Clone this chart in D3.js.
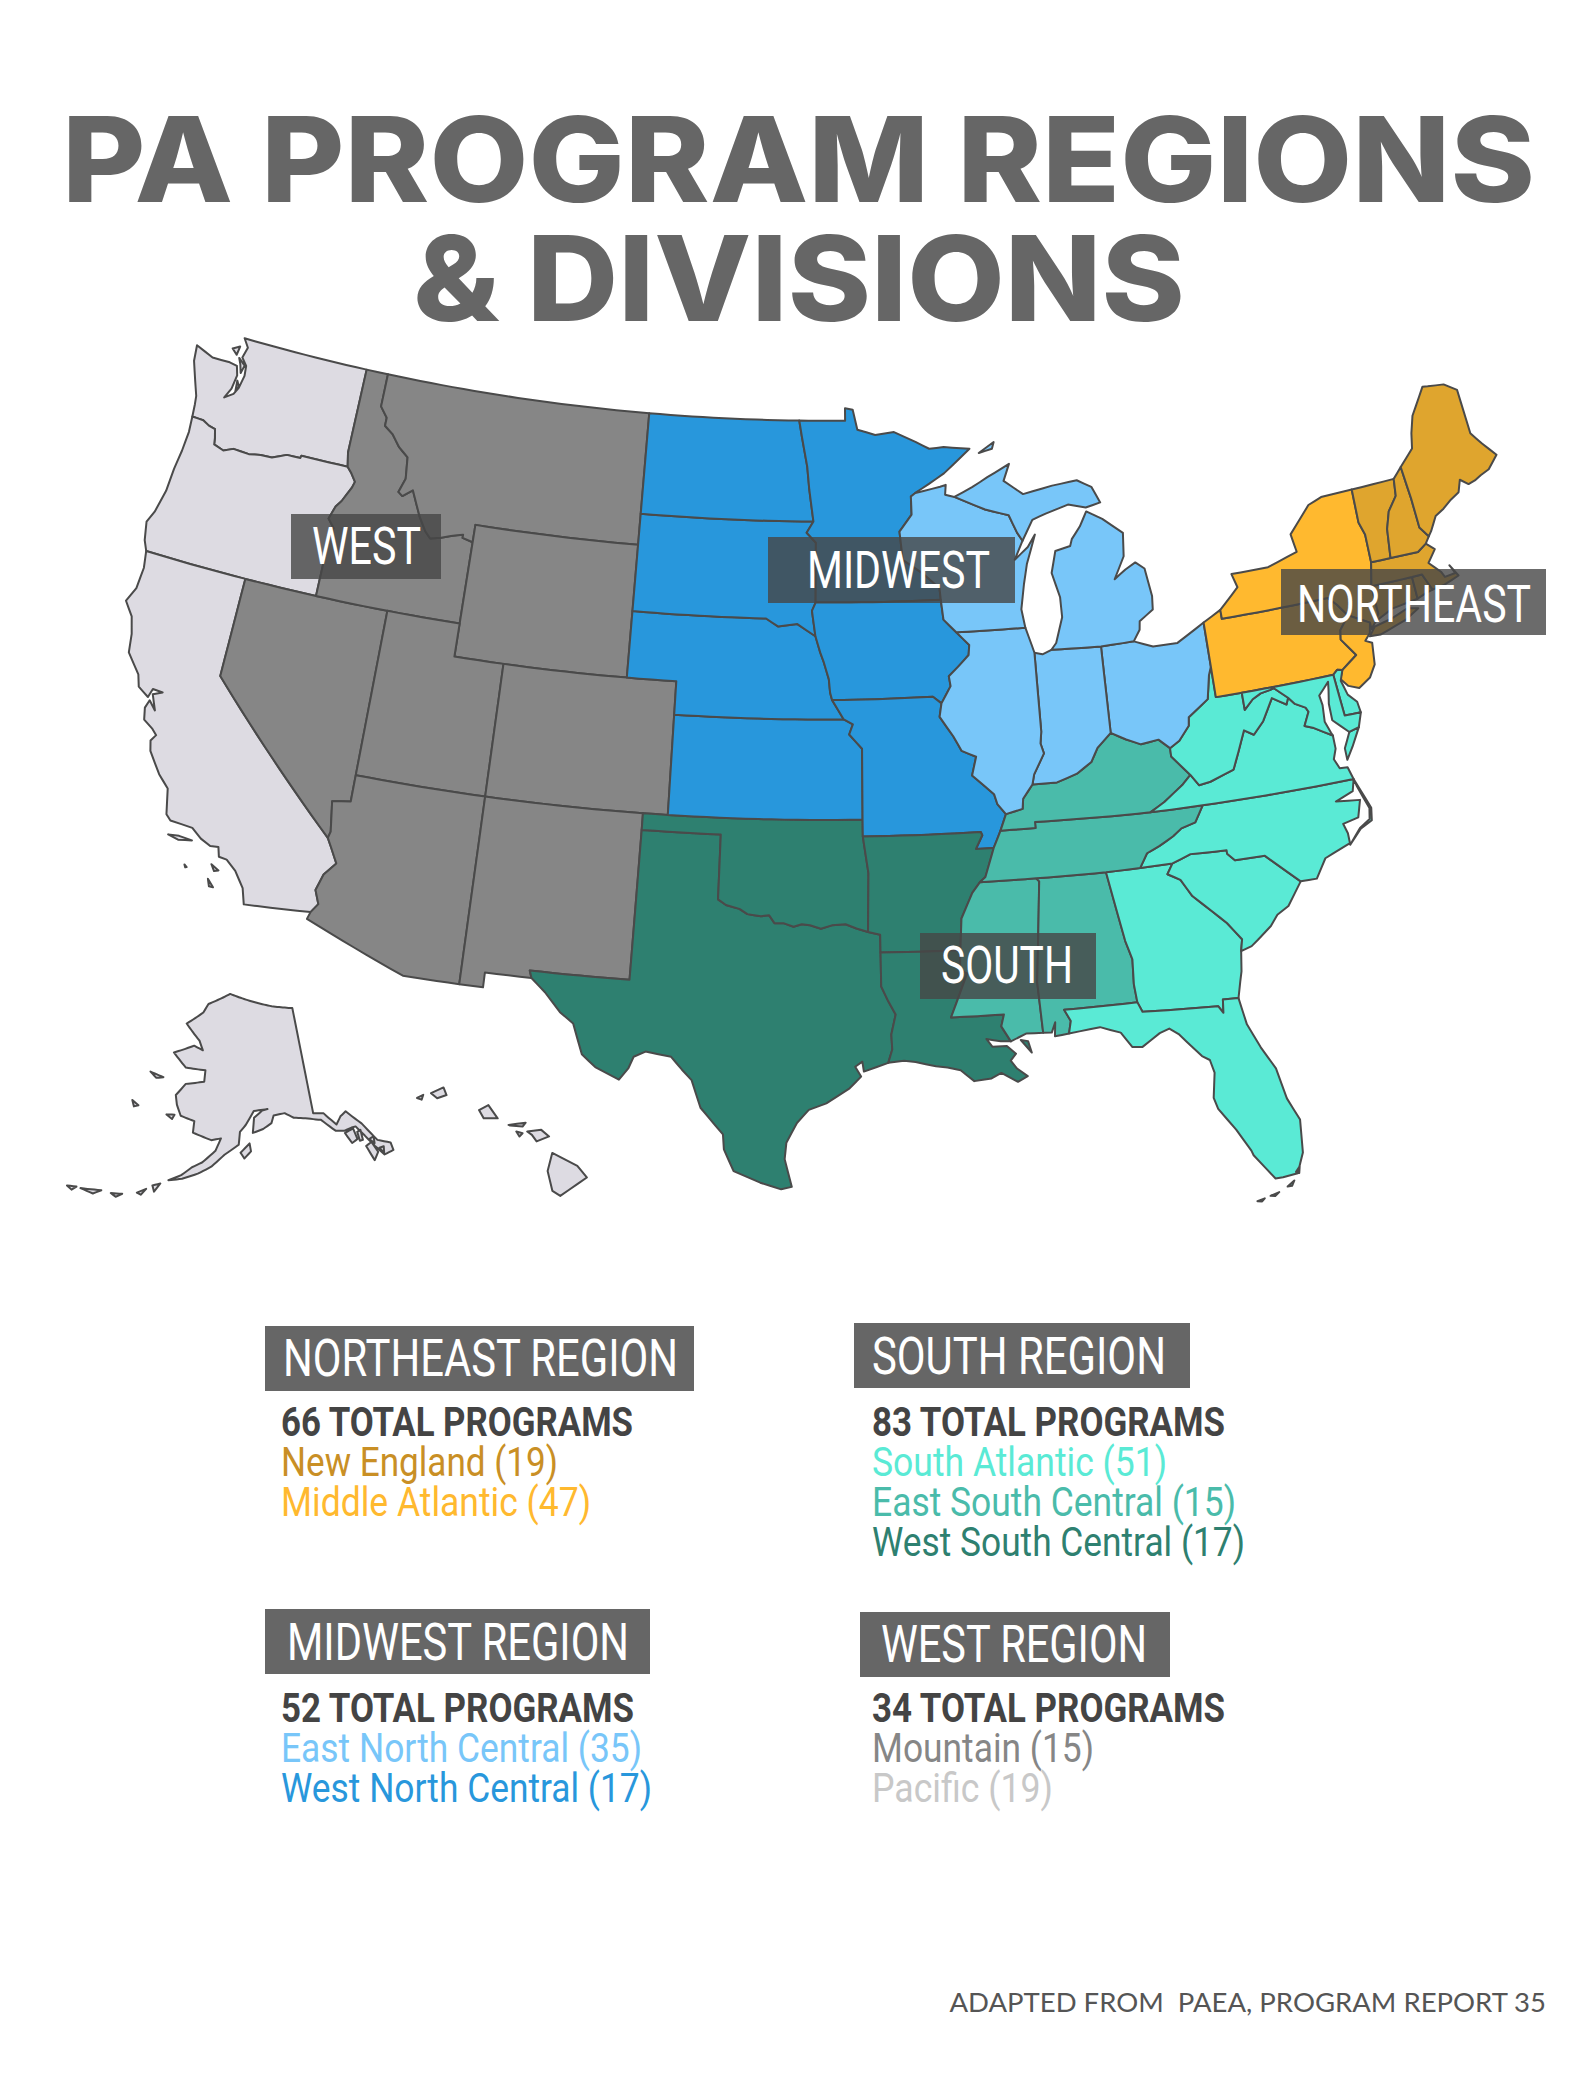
<!DOCTYPE html>
<html>
<head>
<meta charset="utf-8">
<title>PA Program Regions & Divisions</title>
<script src="https://cdnjs.cloudflare.com/ajax/libs/d3/7.8.5/d3.min.js"></script>
<style>
  html, body { margin: 0; padding: 0; background: #fff; }
  svg { display: block; }
</style>
</head>
<body>
<svg id="chart" width="1596" height="2074"></svg>
<script>
// Chart text and values
const titleLines = ["PA PROGRAM REGIONS", "& DIVISIONS"];
const regionNames = ["NORTHEAST", "SOUTH", "MIDWEST", "WEST"];
const regionTotals = [66, 83, 52, 34];
const regionDivisions = [
  ["New England", "Middle Atlantic"],
  ["South Atlantic", "East South Central", "West South Central"],
  ["East North Central", "West North Central"],
  ["Mountain", "Pacific"],
];
const divisionCounts = {
  "New England": 19, "Middle Atlantic": 47,
  "South Atlantic": 51, "East South Central": 15, "West South Central": 17,
  "East North Central": 35, "West North Central": 17,
  "Mountain": 15, "Pacific": 19,
};
const divisionStates = {
  "New England": ["ME", "NH", "VT", "MA", "RI", "CT"],
  "Middle Atlantic": ["NY", "PA", "NJ"],
  "South Atlantic": ["DE", "MD", "VA", "WV", "NC", "SC", "GA", "FL"],
  "East South Central": ["KY", "TN", "MS", "AL"],
  "West South Central": ["TX", "OK", "AR", "LA"],
  "East North Central": ["WI", "MI", "IL", "IN", "OH"],
  "West North Central": ["ND", "SD", "NE", "KS", "MN", "IA", "MO"],
  "Mountain": ["ID", "MT", "WY", "NV", "UT", "CO", "AZ", "NM"],
  "Pacific": ["WA", "OR", "CA", "AK", "HI"],
};
const footerText = "ADAPTED FROM  PAEA, PROGRAM REPORT 35";

// Shared borders, lon/lat
const arcs = {
  wa_n: [[-117.04,49],[-122.76,49]],
  puget: [[-122.76,49],[-122.5,48.75],[-122.62,48.42],[-122.35,48.2],[-122.3,47.9],[-122.4,47.5],[-122.55,47.28],[-122.9,47.1],[-122.7,47.42],[-122.62,47.85],[-122.75,48.13],[-123.1,48.17],[-123.9,48.16],[-124.73,48.38]],
  wa_coast: [[-124.73,48.38],[-124.65,47.9],[-124.35,47.35],[-124.1,46.9],[-124.05,46.65],[-124,46.27]],
  wa_or: [[-124,46.27],[-123.5,46.26],[-123.2,46.15],[-122.9,46.1],[-122.8,45.85],[-122.75,45.65],[-122.3,45.55],[-121.9,45.68],[-121.2,45.65],[-120.7,45.72],[-120.2,45.73],[-119.6,45.92],[-119,45.93],[-118.98,46],[-116.92,46]],
  wa_id: [[-116.92,46],[-117.04,46.42],[-117.04,49]],
  or_coast: [[-124,46.27],[-123.95,45.8],[-124,45.2],[-124.1,44.6],[-124.15,43.9],[-124.35,43.2],[-124.55,42.84],[-124.4,42.3],[-124.21,42]],
  or_ca: [[-124.21,42],[-120,42]],
  or_nv: [[-120,42],[-117.03,42]],
  or_id: [[-117.03,42],[-117.03,43.83],[-116.93,44.1],[-117.23,44.35],[-117.05,44.75],[-116.85,44.95],[-116.55,45.4],[-116.47,45.6],[-116.7,45.83],[-116.92,46]],
  ca_coast: [[-124.21,42],[-124.1,41.5],[-124.15,40.85],[-124.4,40.4],[-124,40],[-123.8,39.5],[-123.7,38.95],[-123.1,38.4],[-122.95,38.05],[-122.5,37.83],[-122.4,38.1],[-122,38.08],[-122.35,37.95],[-122.1,37.5],[-122.4,37.75],[-122.5,37.5],[-122.4,37.15],[-122,36.95],[-121.8,36.8],[-121.95,36.6],[-121.85,36.3],[-121.3,35.7],[-120.85,35.35],[-120.65,34.6],[-120.45,34.45],[-119.6,34.4],[-119.2,34.15],[-118.8,34],[-118.5,34.03],[-118.4,33.75],[-118.1,33.72],[-117.7,33.45],[-117.3,33],[-117.13,32.53]],
  ca_mx: [[-117.13,32.53],[-114.72,32.72]],
  ca_az: [[-114.72,32.72],[-114.5,33],[-114.7,33.4],[-114.52,33.9],[-114.14,34.3],[-114.45,34.75],[-114.63,35]],
  ca_nv: [[-114.63,35],[-120,39],[-120,42]],
  nv_az: [[-114.63,35],[-114.57,35.2],[-114.7,35.9],[-114.74,36.1],[-114.4,36.15],[-114.05,36.2],[-114.05,37]],
  nv_ut: [[-114.05,37],[-114.05,42]],
  nv_id: [[-114.05,42],[-117.03,42]],
  id_ut: [[-114.05,42],[-111.05,42]],
  id_wy: [[-111.05,42],[-111.05,44.47]],
  id_mt: [[-111.05,44.47],[-111.5,44.55],[-111.5,44.65],[-112,44.55],[-112.4,44.45],[-112.85,44.37],[-113.1,44.55],[-113.45,44.95],[-113.95,45.7],[-114.35,45.47],[-114.55,45.57],[-114.35,46],[-114.45,46.65],[-114.9,46.9],[-115.3,47.25],[-115.7,47.45],[-115.7,47.7],[-116.05,48],[-116.05,49]],
  id_n: [[-116.05,49],[-117.04,49]],
  mt_n: [[-116.05,49],[-104.05,49]],
  mt_nd: [[-104.05,49],[-104.05,45.94]],
  mt_sd: [[-104.05,45.94],[-104.05,45]],
  mt_wy: [[-104.05,45],[-111.05,45],[-111.05,44.47]],
  wy_sd: [[-104.05,45],[-104.05,43]],
  wy_ne: [[-104.05,43],[-104.05,41]],
  wy_co: [[-104.05,41],[-109.05,41]],
  wy_ut: [[-109.05,41],[-111.05,41],[-111.05,42]],
  ut_co: [[-109.05,41],[-109.05,37]],
  ut_az: [[-109.05,37],[-114.05,37]],
  co_ne: [[-104.05,41],[-102.05,41],[-102.05,40]],
  co_ks: [[-102.05,40],[-102.05,37]],
  co_ok: [[-102.05,37],[-103,37]],
  co_nm: [[-103,37],[-109.05,37]],
  az_nm: [[-109.05,37],[-109.05,31.33]],
  az_mx: [[-109.05,31.33],[-111.07,31.33],[-114.8,32.5],[-114.72,32.72]],
  nm_mx: [[-109.05,31.33],[-108.2,31.33],[-108.2,31.78],[-106.53,31.78]],
  nm_tx: [[-106.53,31.78],[-106.62,32],[-103.04,32],[-103,36.5]],
  nm_ok: [[-103,36.5],[-103,37]],
  tx_ok: [[-103,36.5],[-100,36.5],[-100,34.56],[-99.7,34.4],[-99.2,34.3],[-98.9,34.15],[-98.4,34.1],[-98.1,34.13],[-97.9,33.9],[-97.55,33.9],[-97.2,33.8],[-96.9,33.88],[-96.6,33.85],[-96.2,33.75],[-95.8,33.85],[-95.3,33.88],[-94.9,33.75],[-94.48,33.64]],
  tx_ar: [[-94.48,33.64],[-94.04,33.55],[-94.04,33.02]],
  tx_la: [[-94.04,33.02],[-94.04,32],[-93.8,31.55],[-93.55,31.15],[-93.72,30.55],[-93.7,30.1],[-93.85,29.7]],
  tx_coast: [[-93.85,29.7],[-94.7,29.45],[-94.75,29.75],[-95,29.6],[-94.8,29.3],[-95.2,28.95],[-96,28.5],[-96.6,28.3],[-97,27.9],[-97.35,27.3],[-97.4,26.8],[-97.15,25.96]],
  tx_mx: [[-97.15,25.96],[-97.5,25.88],[-98.2,26.07],[-99.1,26.4],[-99.45,27.05],[-99.5,27.5],[-100.3,28.28],[-100.65,29.1],[-101,29.4],[-101.4,29.77],[-102.3,29.88],[-102.7,29.7],[-102.85,29.35],[-103.15,28.98],[-104,29.3],[-104.5,29.65],[-104.9,30.55],[-105.4,30.85],[-106,31.4],[-106.53,31.78]],
  ok_ks: [[-102.05,37],[-94.62,37]],
  ok_mo: [[-94.62,37],[-94.62,36.5]],
  ok_ar: [[-94.62,36.5],[-94.43,35.4],[-94.48,33.64]],
  ks_ne: [[-102.05,40],[-95.31,40]],
  ks_mo: [[-95.31,40],[-94.95,39.85],[-95.1,39.55],[-94.6,39.12],[-94.62,37]],
  ne_sd: [[-104.05,43],[-98.5,43],[-98,42.77],[-97.2,42.85],[-96.45,42.49]],
  ne_ia: [[-96.45,42.49],[-96.25,42],[-96.1,41.7],[-95.9,41.2],[-95.85,40.8],[-95.77,40.58]],
  ne_mo: [[-95.77,40.58],[-95.31,40]],
  sd_nd: [[-104.05,45.94],[-96.56,45.94]],
  sd_mn: [[-96.56,45.94],[-96.85,45.6],[-96.45,45.3],[-96.45,43.5]],
  sd_ia: [[-96.45,43.5],[-96.6,43.25],[-96.45,42.49]],
  nd_n: [[-104.05,49],[-97.23,49]],
  nd_mn: [[-97.23,49],[-97.1,48.5],[-96.85,47.6],[-96.75,46.9],[-96.56,45.94]],
  mn_n: [[-97.23,49],[-95.15,49],[-95.15,49.38],[-94.8,49.33],[-94.6,48.72],[-93.8,48.55],[-92.95,48.62],[-92,48.3],[-91.4,48.07],[-90.75,48.1],[-89.6,48],[-90.8,47.3],[-91.5,47],[-92.1,46.75]],
  mn_wi: [[-92.1,46.75],[-92.3,46.65],[-92.3,46.1],[-92.85,45.6],[-92.75,44.75],[-91.9,44.3],[-91.25,43.85],[-91.22,43.5]],
  mn_ia: [[-91.22,43.5],[-96.45,43.5]],
  ia_wi: [[-91.22,43.5],[-91.15,42.9],[-90.65,42.5]],
  ia_il: [[-90.65,42.5],[-90.15,42.1],[-90.2,41.8],[-90.65,41.47],[-91.05,41.2],[-91,40.9],[-91.4,40.4]],
  ia_mo: [[-91.4,40.4],[-91.73,40.61],[-95.77,40.58]],
  mo_il: [[-91.4,40.4],[-91.5,40],[-91,39.4],[-90.7,38.95],[-90.15,38.75],[-90.35,38.2],[-89.55,37.6],[-89.45,37.3],[-89.15,36.98]],
  mo_ky: [[-89.15,36.98],[-89.4,36.5]],
  mo_tn: [[-89.4,36.5],[-89.7,36]],
  mo_ar: [[-89.7,36],[-90.37,36],[-90.1,36.4],[-90.15,36.5],[-94.62,36.5]],
  ar_tn: [[-89.7,36],[-90.08,35.15],[-90.3,35]],
  ar_ms: [[-90.3,35],[-90.6,34.7],[-91.05,33.95],[-91.15,33]],
  ar_la: [[-91.15,33],[-94.04,33.02]],
  la_ms: [[-91.15,33],[-91.2,32.4],[-90.95,32.3],[-91.6,31],[-89.73,31],[-89.85,30.65],[-89.55,30.18]],
  la_coast: [[-89.55,30.18],[-89.9,30.2],[-90.4,30.3],[-90.2,30.05],[-89.7,30.05],[-89.4,29.8],[-89.6,29.6],[-89.4,29.35],[-89.05,29.1],[-89.4,28.95],[-89.95,29.25],[-90.3,29.1],[-90.9,29.05],[-91.35,29.4],[-91.8,29.5],[-92.2,29.55],[-92.9,29.7],[-93.3,29.75],[-93.85,29.7]],
  ms_tn: [[-90.3,35],[-88.2,35]],
  ms_al: [[-88.2,35],[-88.1,34.9],[-88.47,31.9],[-88.4,30.37]],
  ms_coast: [[-88.4,30.37],[-89,30.38],[-89.55,30.18]],
  al_tn: [[-88.2,35],[-85.6,34.98]],
  al_ga: [[-85.6,34.98],[-85.18,32.87],[-85,32.3],[-85.05,31.55],[-85,31]],
  al_fl: [[-85,31],[-87.6,31],[-87.4,30.65],[-87.5,30.28]],
  al_coast: [[-87.5,30.28],[-88,30.23],[-87.95,30.65],[-88.1,30.35],[-88.4,30.37]],
  ga_tn: [[-85.6,34.98],[-84.32,34.99]],
  ga_nc: [[-84.32,34.99],[-83.11,35]],
  ga_sc: [[-83.11,35],[-83.35,34.7],[-82.9,34.48],[-82.55,33.95],[-81.9,33.4],[-81.45,33],[-81,32.45],[-81.1,32.1]],
  ga_coast: [[-81.1,32.1],[-81.2,31.5],[-81.3,31.2],[-81.45,30.72]],
  ga_fl: [[-81.45,30.72],[-82,30.75],[-82.05,30.35],[-82.2,30.57],[-84.86,30.7],[-85,31]],
  fl_coast: [[-81.45,30.72],[-81.3,29.9],[-80.95,29.15],[-80.55,28.45],[-80.35,27.5],[-80.03,26.8],[-80.12,25.8],[-80.4,25.2],[-80.9,25.15],[-81.15,25.15],[-81.75,25.95],[-81.8,26.1],[-82.2,26.8],[-82.7,27.5],[-82.8,27.85],[-82.65,28.6],[-82.75,29],[-83,29.15],[-83.7,29.9],[-84,30.1],[-84.35,30],[-85,29.65],[-85.35,29.68],[-85.7,30.15],[-86.4,30.38],[-87.5,30.28]],
  sc_nc: [[-83.11,35],[-82.4,35.2],[-81.05,35.15],[-81.05,35.05],[-80.8,34.82],[-79.68,34.8],[-78.55,33.86]],
  sc_coast: [[-78.55,33.86],[-79.15,33.2],[-79.6,33],[-79.9,32.7],[-80.45,32.35],[-80.7,32.2],[-81.1,32.1]],
  nc_tn: [[-84.32,34.99],[-84,35.4],[-83.5,35.57],[-82.95,35.8],[-82.6,36],[-82.05,36.12],[-81.68,36.59]],
  nc_va: [[-81.68,36.59],[-75.87,36.55]],
  nc_coast: [[-75.87,36.55],[-76,36.2],[-76.7,36],[-75.8,35.9],[-76,35.4],[-76.6,35.3],[-76.5,35],[-76.5,34.7],[-77.5,34.4],[-77.95,33.85],[-78.55,33.86]],
  tn_va: [[-81.68,36.59],[-83.68,36.6]],
  tn_ky: [[-83.68,36.6],[-88.07,36.68],[-88.07,36.5],[-89.4,36.5]],
  ky_va: [[-83.68,36.6],[-83.1,36.85],[-82.3,37.3],[-81.97,37.54]],
  ky_wv: [[-81.97,37.54],[-82.6,38.17],[-82.6,38.42]],
  ky_oh: [[-82.6,38.42],[-83,38.72],[-83.7,38.65],[-84.25,38.85],[-84.82,39.1]],
  ky_in: [[-84.82,39.1],[-85.4,38.7],[-85.7,38.3],[-86.3,38],[-87.1,37.8],[-88.05,37.8]],
  ky_il: [[-88.05,37.8],[-88.45,37.4],[-88.5,37.1],[-89.15,36.98]],
  va_wv: [[-81.97,37.54],[-81.7,37.2],[-81.25,37.25],[-80.3,37.5],[-80,38],[-79.65,38.6],[-79.3,38.42],[-78.85,38.77],[-78.35,39.4],[-77.83,39.13],[-77.72,39.32]],
  va_md: [[-77.72,39.32],[-77.5,39.1],[-77.12,38.93],[-77.04,38.79],[-77.3,38.4],[-77,38.3],[-76.3,37.95]],
  va_coast: [[-76.3,37.95],[-76.3,37.55],[-76.45,37.25],[-76.3,36.95],[-76,36.93],[-75.87,36.55]],
  wv_oh: [[-82.6,38.42],[-82.2,38.6],[-81.75,39],[-81.7,39.25],[-80.85,39.7],[-80.65,40.4],[-80.52,40.64]],
  wv_pa: [[-80.52,40.64],[-80.52,39.72],[-79.48,39.72]],
  wv_md: [[-79.48,39.72],[-79.48,39.2],[-79.1,39.47],[-78.75,39.6],[-78.35,39.65],[-78.2,39.68],[-77.72,39.32]],
  oh_in: [[-84.82,39.1],[-84.8,41.7]],
  oh_mi: [[-84.8,41.7],[-83.45,41.73]],
  oh_lake: [[-83.45,41.73],[-82.7,41.5],[-81.7,41.5],[-80.52,41.98]],
  oh_pa: [[-80.52,41.98],[-80.52,40.64]],
  in_il: [[-87.52,41.72],[-87.53,39.35],[-87.6,39],[-87.5,38.7],[-87.95,38.1],[-88.05,37.8]],
  in_lake: [[-87.52,41.72],[-87.2,41.65],[-86.82,41.76]],
  in_mi: [[-86.82,41.76],[-84.8,41.7]],
  il_lake: [[-87.8,42.49],[-87.6,41.95],[-87.52,41.72]],
  il_wi: [[-87.8,42.49],[-90.65,42.5]],
  wi_sup: [[-92.1,46.75],[-91,46.9],[-90.75,46.95],[-90.8,46.65],[-90.4,46.57]],
  wi_mi: [[-90.4,46.57],[-89.1,46.13],[-88.1,45.9],[-87.8,45.35],[-87.6,45.1]],
  wi_lake: [[-87.6,45.1],[-88,44.55],[-87.4,44.9],[-87.05,45.25],[-87.5,44.4],[-87.7,43.8],[-87.9,43.05],[-87.8,42.49]],
  mi_up: [[-87.6,45.1],[-87.1,45.7],[-86.5,45.85],[-85.5,46.05],[-84.75,45.9],[-84.1,46],[-84.4,46.5],[-85,46.75],[-86.1,46.67],[-87.4,46.5],[-88.2,46.95],[-87.9,47.45],[-88.9,47.1],[-89.6,46.83],[-90.4,46.57]],
  mi_low: [[-83.45,41.73],[-83.15,42.05],[-83.1,42.3],[-82.5,42.6],[-82.45,43],[-82.6,43.85],[-82.95,44.07],[-83.4,43.9],[-83.9,43.65],[-83.4,44.3],[-83.3,45],[-84.1,45.5],[-84.75,45.78],[-85.1,45.35],[-85.5,45],[-85.6,44.8],[-86.25,44.7],[-86.5,44.05],[-86.25,43.3],[-86.25,42.7],[-86.6,41.95],[-86.82,41.76]],
  pa_lake: [[-80.52,41.98],[-79.76,42.27]],
  pa_ny: [[-79.76,42.27],[-79.76,42],[-75.35,42],[-75.05,41.75],[-74.7,41.36]],
  pa_nj: [[-74.7,41.36],[-75.13,40.98],[-75.2,40.7],[-74.73,40.15],[-75.4,39.8]],
  pa_de: [[-75.4,39.8],[-75.6,39.84],[-75.79,39.72]],
  pa_md: [[-75.79,39.72],[-79.48,39.72]],
  ny_n: [[-79.76,42.27],[-78.9,42.85],[-79.05,43.27],[-77.5,43.27],[-76.2,43.55],[-76.3,44.1],[-75.3,44.85],[-74.7,45],[-73.35,45.01]],
  ny_vt: [[-73.35,45.01],[-73.4,44],[-73.25,43.6],[-73.28,42.75]],
  ny_ma: [[-73.28,42.75],[-73.5,42.05]],
  ny_ct: [[-73.5,42.05],[-73.49,41.2],[-73.66,41]],
  ny_sound: [[-73.66,41],[-73.9,40.8],[-73.9,41]],
  ny_nj: [[-73.9,41],[-74.7,41.36]],
  nj_coast: [[-75.4,39.8],[-75.55,39.55],[-75.3,39.3],[-74.9,39.17],[-74.4,39.4],[-74.1,39.75],[-74,40.4],[-74.25,40.5],[-74,40.7],[-73.9,41]],
  de_coast: [[-75.4,39.8],[-75.55,39.5],[-75.4,39.05],[-75.1,38.78],[-75.05,38.45]],
  de_md: [[-75.05,38.45],[-75.69,38.46],[-75.79,39.72]],
  md_coast: [[-75.05,38.45],[-75.25,38.03],[-75.65,37.95]],
  md_bay: [[-75.65,37.95],[-76.2,38.4],[-76.2,38.9],[-76.1,39.3],[-76.05,39.55],[-76.5,39.2],[-76.45,38.9],[-76.5,38.4],[-76.35,38.05],[-76.3,37.95]],
  ct_ma: [[-73.5,42.05],[-71.8,42.02]],
  ct_ri: [[-71.8,42.02],[-71.8,41.35]],
  ct_coast: [[-71.8,41.35],[-72.9,41.25],[-73.66,41]],
  ri_ma: [[-71.8,42.02],[-71.38,42.02],[-71.12,41.5]],
  ri_coast: [[-71.12,41.5],[-71.4,41.45],[-71.8,41.35]],
  ma_vt: [[-73.28,42.75],[-72.46,42.73]],
  ma_nh: [[-72.46,42.73],[-71.3,42.7],[-70.9,42.88]],
  ma_coast: [[-70.9,42.88],[-70.6,42.65],[-71,42.3],[-70.6,41.95],[-70.5,41.77],[-70.05,41.8],[-70.2,42.07],[-69.95,41.7],[-70.6,41.55],[-71.12,41.5]],
  vt_n: [[-73.35,45.01],[-71.5,45.01]],
  vt_nh: [[-71.5,45.01],[-71.6,44.5],[-72.05,44.1],[-72.3,43.6],[-72.46,42.73]],
  nh_n: [[-71.5,45.01],[-71.08,45.3]],
  nh_me: [[-71.08,45.3],[-71,44.3],[-70.98,43.4],[-70.7,43.07]],
  nh_coast: [[-70.7,43.07],[-70.9,42.88]],
  me_out: [[-71.08,45.3],[-70.4,45.75],[-70.25,46.2],[-70,46.7],[-69.23,47.46],[-69,47.43],[-68.3,47.35],[-67.8,47.07],[-67.8,45.7],[-67.45,45.3],[-67,44.85],[-67.5,44.5],[-67.9,44.4],[-68.2,44.3],[-68.5,44.25],[-68.8,44.45],[-69,44.1],[-69.4,43.95],[-69.8,43.75],[-70.2,43.6],[-70.55,43.2],[-70.7,43.07]],
};

// Each state is one or more rings of arcs, "-" walks an arc backwards
const stateRings = {
  WA: ["wa_n puget wa_coast wa_or wa_id"],
  OR: ["or_coast or_ca or_nv or_id -wa_or"],
  CA: ["ca_coast ca_mx ca_az ca_nv -or_ca"],
  NV: ["nv_az nv_ut nv_id -or_nv -ca_nv"],
  ID: ["id_ut id_wy id_mt id_n -wa_id -or_id -nv_id"],
  MT: ["mt_n mt_nd mt_sd mt_wy id_mt"],
  WY: ["-mt_wy wy_sd wy_ne wy_co wy_ut id_wy"],
  UT: ["ut_co ut_az nv_ut id_ut -wy_ut"],
  CO: ["co_ne co_ks co_ok co_nm -ut_co -wy_co"],
  AZ: ["az_nm az_mx ca_az nv_az -ut_az"],
  NM: ["az_nm nm_mx nm_tx nm_ok co_nm"],
  TX: ["tx_ok tx_ar tx_la tx_coast tx_mx nm_tx"],
  OK: ["ok_ks ok_mo ok_ar -tx_ok nm_ok -co_ok"],
  KS: ["ks_ne ks_mo -ok_ks -co_ks"],
  NE: ["ne_sd ne_ia ne_mo -ks_ne -co_ne -wy_ne"],
  SD: ["sd_nd sd_mn sd_ia -ne_sd -wy_sd -mt_sd"],
  ND: ["nd_n nd_mn -sd_nd -mt_nd"],
  MN: ["mn_n mn_wi mn_ia -sd_mn -nd_mn"],
  IA: ["ia_wi ia_il ia_mo -ne_ia -sd_ia -mn_ia"],
  MO: ["mo_il mo_ky mo_tn mo_ar -ok_mo -ks_mo -ne_mo -ia_mo"],
  AR: ["-mo_ar ar_tn ar_ms ar_la -tx_ar -ok_ar"],
  LA: ["la_ms la_coast -tx_la -ar_la"],
  MS: ["ms_tn ms_al ms_coast -la_ms -ar_ms"],
  AL: ["al_tn al_ga al_fl al_coast -ms_al"],
  GA: ["ga_tn ga_nc ga_sc ga_coast ga_fl -al_ga"],
  FL: ["fl_coast -al_fl -ga_fl"],
  SC: ["sc_nc sc_coast -ga_sc"],
  NC: ["nc_tn nc_va nc_coast -sc_nc -ga_nc"],
  TN: ["tn_ky mo_tn ar_tn ms_tn al_tn ga_tn nc_tn tn_va"],
  KY: ["ky_va ky_wv ky_oh ky_in ky_il mo_ky -tn_ky"],
  VA: ["ky_va va_wv va_md va_coast -nc_va tn_va"],
  WV: ["wv_oh wv_pa wv_md -va_wv ky_wv"],
  OH: ["oh_in oh_mi oh_lake oh_pa -wv_oh ky_oh"],
  IN: ["in_lake in_mi -oh_in ky_in -in_il"],
  IL: ["il_lake in_il ky_il -mo_il -ia_il -il_wi"],
  WI: ["wi_sup wi_mi wi_lake il_wi -ia_wi -mn_wi"],
  MI: ["mi_low in_mi oh_mi", "wi_mi mi_up"],
  PA: ["pa_lake pa_ny pa_nj pa_de pa_md -wv_pa -oh_pa"],
  NY: ["ny_n ny_vt ny_ma ny_ct ny_sound ny_nj -pa_ny"],
  NJ: ["ny_nj pa_nj nj_coast"],
  DE: ["de_coast de_md -pa_de"],
  MD: ["-pa_md -de_md md_coast md_bay -va_md -wv_md"],
  CT: ["ct_ma ct_ri ct_coast -ny_ct"],
  RI: ["ri_ma ri_coast -ct_ri"],
  MA: ["ma_vt ma_nh ma_coast -ri_ma -ct_ma -ny_ma"],
  VT: ["vt_n vt_nh -ma_vt -ny_vt"],
  NH: ["nh_n nh_me nh_coast -ma_nh -vt_nh"],
  ME: ["me_out -nh_me"],
};

// Pieces that are not part of a border chain
const extraRings = {
  WA: [
    [[-123.15,48.6],[-122.85,48.72],[-122.9,48.45]],
    [[-122.75,48.38],[-122.42,48.2],[-122.5,47.95],[-122.62,48.2]],
    [[-122.55,47.7],[-122.42,47.55],[-122.5,47.35]],
  ],
  VA: [[[-75.65,37.95],[-75.25,38.03],[-75.65,37.5],[-75.95,37.15],[-75.95,37.5]]],
  NY: [[[-74.03,40.6],[-73.75,40.85],[-73,40.97],[-72.3,41.15],[-71.87,41.07],[-72.5,40.82],[-73.6,40.58]]],
  NC: [[[-75.87,36.55],[-75.45,35.6],[-75.53,35.23],[-76,35.05],[-76.5,34.65],[-76.02,35.08],[-75.6,35.28],[-75.52,35.6],[-75.8,36.3]]],
  FL: [
    [[-80.45,25.25],[-80.3,25.4],[-80.35,25.2]],
    [[-80.8,24.85],[-80.55,25],[-80.65,24.85]],
    [[-81.4,24.65],[-81.1,24.72],[-81.25,24.62]],
    [[-81.85,24.55],[-81.6,24.6],[-81.7,24.52]],
  ],
  MI: [[[-89.2,47.85],[-88.5,48.15],[-88.6,47.95]]],
  LA: [[[-89.2,30.2],[-88.85,29.8],[-88.95,30.15]]],
  CA: [
    [[-120.4,34.03],[-120,33.95],[-119.5,34.03],[-120,34.07]],
    [[-118.6,33.48],[-118.3,33.35],[-118.45,33.3]],
    [[-118.6,33.03],[-118.35,32.82],[-118.5,32.82]],
    [[-119.55,33.28],[-119.45,33.22],[-119.5,33.2]],
  ],
};

const alaskaRings = [
  [[-141,69.65],[-141,60.3],[-139.2,60.1],[-137.5,58.9],[-136.5,59.5],[-135.4,59.8],[-133.4,58.4],[-131.8,56.6],[-130,56],[-130,55.3],[-131.5,55.2],[-132.5,56.2],[-133.5,57.3],[-134.5,58.3],[-135.2,58.3],[-136.5,58.2],[-137.9,58.4],[-139.9,59.6],[-142.5,60],[-144.5,60.2],[-146,60.7],[-148,60.6],[-148.5,59.95],[-150,59.5],[-151.8,59.2],[-151.5,60.5],[-150,61.1],[-149,61.2],[-151.5,61.1],[-153,59.9],[-154,59.3],[-154.2,58.2],[-156.5,57.3],[-158.5,56.2],[-160.5,55.5],[-162.8,54.9],[-164.8,54.6],[-163,55.2],[-161.5,56],[-160,56.5],[-158,57.6],[-157.2,58.7],[-158.8,58.5],[-162,59],[-162,60],[-164.5,60.3],[-165.5,61.2],[-166,62],[-164.5,63.1],[-161,63.5],[-161,64.5],[-165,64.5],[-168,65.6],[-164,66.5],[-162,66.2],[-163,67],[-166.5,68.3],[-163,69.5],[-162,70.3],[-156.6,71.35],[-152,70.8],[-146,70.1]],
  [[-153.9,57.5],[-152.4,58.3],[-152.2,57.6],[-153.3,57]],
  [[-167,60.2],[-165.6,60.3],[-165.9,59.9]],
  [[-171.7,63.5],[-169,63.3],[-170.3,63.1]],
  [[-133.8,56.4],[-132.8,56.6],[-132.3,55.6],[-133.2,55]],
  [[-136.5,58],[-135,58.2],[-134.8,57.2],[-135.8,57]],
  [[-134.5,57.8],[-133.9,57.9],[-134,57],[-134.5,57]],
  [[-133,56.9],[-132.2,57],[-132.4,56.4]],
  [[-131.9,55.9],[-131.2,55.9],[-131.5,55.3]],
  [[-167,53.9],[-165.9,54.2],[-166.6,53.4]],
  [[-169,53],[-167.8,53.5],[-168.4,52.9]],
  [[-172.6,52.4],[-171,52.6],[-171.8,52.2]],
  [[-176.9,52],[-174,52.4],[-175,51.9]],
  [[-178.8,51.8],[-177.5,52],[-178,51.6]],
  [[-173.5,60.7],[-172.2,60.4],[-172.9,60.2]],
];

const hawaiiRings = [
  [[-155.9,20.25],[-155.1,19.85],[-154.8,19.5],[-155.65,18.95],[-155.9,19.1],[-156.05,19.7]],
  [[-156.7,20.9],[-156.25,20.95],[-156,20.75],[-156.4,20.6],[-156.55,20.8]],
  [[-157.3,21.1],[-156.75,21.17],[-156.85,21.05],[-157.25,21.08]],
  [[-157.05,20.9],[-156.85,20.85],[-156.95,20.75]],
  [[-158.25,21.55],[-157.95,21.7],[-157.65,21.3],[-158.1,21.3]],
  [[-159.8,22.05],[-159.4,22.23],[-159.3,22],[-159.6,21.9]],
  [[-160.25,21.9],[-160.05,22],[-160.1,21.85]],
];

const strokeColor = "#4a4a4a";
const fillColors = {
  "New England": "#dfa52e", "Middle Atlantic": "#ffb92f",
  "South Atlantic": "#5aead5", "East South Central": "#4abbaa", "West South Central": "#2e8070",
  "East North Central": "#78c6f9", "West North Central": "#2897dc",
  "Mountain": "#868686", "Pacific": "#dddbe2",
};
const textColors = Object.assign({}, fillColors, {
  "New England": "#c98f25", "Pacific": "#c8c8c8",
});

// Walk arcs into a ring
function ringFromArcs(spec) {
  const ring = [];
  spec.split(" ").forEach((name) => {
    const back = name[0] === "-";
    const pts = arcs[back ? name.slice(1) : name];
    (back ? pts.slice().reverse() : pts).forEach((p) => ring.push(p));
  });
  return ring;
}

// Long borders follow parallels, geoPath would bend them along great circles
function densify(ring) {
  const out = [];
  const closed = ring.concat([ring[0]]);
  for (let i = 0; i < closed.length - 1; i++) {
    const a = closed[i], b = closed[i + 1];
    const steps = Math.max(1, Math.ceil(Math.hypot(b[0] - a[0], b[1] - a[1]) / 0.5));
    for (let j = 0; j < steps; j++) {
      out.push([a[0] + ((b[0] - a[0]) * j) / steps, a[1] + ((b[1] - a[1]) * j) / steps]);
    }
  }
  out.push(out[0]);
  return out;
}

function toPolygon(ring) {
  let coords = densify(ring);
  if (d3.geoArea({ type: "Polygon", coordinates: [coords] }) > 2 * Math.PI) coords = coords.reverse();
  return [coords];
}

function makeFeature(state, rings) {
  return { type: "Feature", id: state, geometry: { type: "MultiPolygon", coordinates: rings.map(toPolygon) } };
}

const stateDivision = {};
Object.keys(divisionStates).forEach((d) => divisionStates[d].forEach((s) => (stateDivision[s] = d)));

const lowerFeatures = Object.keys(stateRings).map((s) =>
  makeFeature(s, stateRings[s].map(ringFromArcs).concat(extraRings[s] || []))
);

const lowerProjection = d3.geoAlbers().scale(1900).translate([811, 763]);
const alaskaProjection = d3.geoConicEqualArea().rotate([154, 0]).center([-2, 58.5]).parallels([55, 65]).scale(658).translate([228, 1141]);
const hawaiiProjection = d3.geoConicEqualArea().rotate([157, 0]).center([-3, 19.9]).parallels([8, 18]).scale(1900).translate([424, 1164]);

const svg = d3.select("#chart");

// Title
const titleY = [202, 321];
const titleX = [[62, 1473], [413, 772]];
svg.selectAll(".title")
  .data(titleLines)
  .enter()
  .append("text")
  .attr("class", "title")
  .attr("x", (d, i) => titleX[i][0])
  .attr("y", (d, i) => titleY[i])
  .attr("textLength", (d, i) => titleX[i][1])
  .attr("lengthAdjust", "spacingAndGlyphs")
  .style("font-family", "Inter, sans-serif")
  .style("font-weight", 800)
  .style("font-size", "118px")
  .style("fill", "#666")
  .text((d) => d);

// Map
function drawStates(features, projection) {
  const path = d3.geoPath(projection);
  svg.append("g")
    .selectAll("path")
    .data(features)
    .enter()
    .append("path")
    .attr("d", path)
    .style("fill", (d) => fillColors[stateDivision[d.id]])
    .style("stroke", strokeColor)
    .style("stroke-width", 2)
    .style("stroke-linejoin", "round");
}
drawStates(lowerFeatures, lowerProjection);
drawStates([makeFeature("AK", alaskaRings)], alaskaProjection);
drawStates([makeFeature("HI", hawaiiRings)], hawaiiProjection);

// Region tags on the map
const mapTags = [
  { box: [291, 514, 150, 65], text: "WEST", x: 312, w: 109, y: 564 },
  { box: [768, 537, 247, 66], text: "MIDWEST", x: 807, w: 183, y: 588 },
  { box: [1281, 569, 265, 66], text: "NORTHEAST", x: 1297, w: 234, y: 622 },
  { box: [920, 933, 176, 66], text: "SOUTH", x: 941, w: 132, y: 983 },
];
const tagGroups = svg.selectAll(".tag").data(mapTags).enter().append("g").attr("class", "tag");
tagGroups.append("rect")
  .attr("x", (d) => d.box[0])
  .attr("y", (d) => d.box[1])
  .attr("width", (d) => d.box[2])
  .attr("height", (d) => d.box[3])
  .style("fill", "#464646")
  .style("fill-opacity", 0.8);
tagGroups.append("text")
  .attr("x", (d) => d.x)
  .attr("y", (d) => d.y)
  .attr("textLength", (d) => d.w)
  .attr("lengthAdjust", "spacingAndGlyphs")
  .style("font-family", "Roboto, sans-serif")
  .style("font-size", "51px")
  .style("fill", "#fff")
  .text((d) => d.text);

// Legend panels, same order as regionNames
const panelLayout = [
  { box: [265, 1326, 429, 65], head: [283, 395, 1376], x: 281, y: 1436, w: [352, [277, 310]] },
  { box: [854, 1323, 336, 65], head: [872, 294, 1374], x: 872, y: 1436, w: [353, [295, 364, 373]] },
  { box: [265, 1609, 385, 65], head: [287, 342, 1660], x: 281, y: 1722, w: [353, [361, 371]] },
  { box: [860, 1612, 310, 65], head: [881, 266, 1662], x: 872, y: 1722, w: [353, [222, 181]] },
];
const lineStep = 40;

regionNames.forEach((region, i) => {
  const layout = panelLayout[i];
  const g = svg.append("g");
  g.append("rect")
    .attr("x", layout.box[0])
    .attr("y", layout.box[1])
    .attr("width", layout.box[2])
    .attr("height", layout.box[3])
    .style("fill", "#666");
  g.append("text")
    .attr("x", layout.head[0])
    .attr("y", layout.head[2])
    .attr("textLength", layout.head[1])
    .attr("lengthAdjust", "spacingAndGlyphs")
    .style("font-family", "Roboto, sans-serif")
    .style("font-size", "51px")
    .style("fill", "#fff")
    .text(region + " REGION");
  g.append("text")
    .attr("x", layout.x)
    .attr("y", layout.y)
    .attr("textLength", layout.w[0])
    .attr("lengthAdjust", "spacingAndGlyphs")
    .style("font-family", "Roboto, sans-serif")
    .style("font-weight", 700)
    .style("font-size", "41px")
    .style("fill", "#444")
    .text(regionTotals[i] + " TOTAL PROGRAMS");
  g.selectAll(".division")
    .data(regionDivisions[i])
    .enter()
    .append("text")
    .attr("class", "division")
    .attr("x", layout.x)
    .attr("y", (d, j) => layout.y + lineStep * (j + 1))
    .attr("textLength", (d, j) => layout.w[1][j])
    .attr("lengthAdjust", "spacingAndGlyphs")
    .style("font-family", "Roboto, sans-serif")
    .style("font-size", "41px")
    .style("fill", (d) => textColors[d])
    .text((d) => d + " (" + divisionCounts[d] + ")");
});

// Source line
svg.append("text")
  .attr("x", 1546)
  .attr("y", 2012)
  .attr("text-anchor", "end")
  .style("font-family", "Lato, sans-serif")
  .style("font-size", "27.5px")
  .style("white-space", "pre")
  .style("fill", "#555")
  .text(footerText);
</script>
</body>
</html>
